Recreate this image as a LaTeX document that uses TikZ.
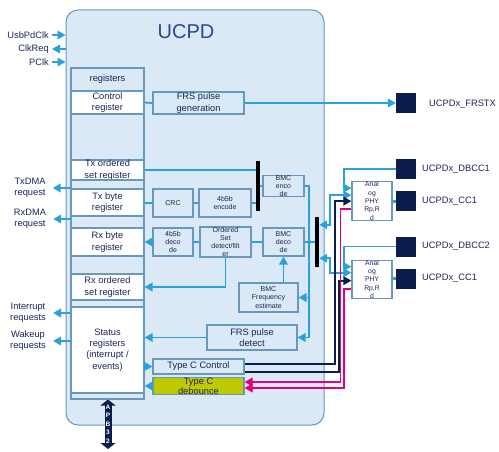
\documentclass[tikz,border=0pt]{standalone}
\usepackage{fontspec}
\setmainfont{Liberation Sans}
\usetikzlibrary{arrows.meta,calc}
\definecolor{mfill}{RGB}{219,232,245}
\definecolor{bord}{RGB}{104,152,190}
\definecolor{lblue}{RGB}{41,161,219}
\definecolor{navy}{RGB}{10,30,78}
\definecolor{txt}{RGB}{28,36,88}
\definecolor{pinkc}{RGB}{228,0,124}
\definecolor{olive}{RGB}{190,202,0}
\definecolor{titlec}{RGB}{40,72,152}
\begin{document}
\begin{tikzpicture}[x=1pt,y=-1pt,
  blk/.style={draw=bord,line width=1.1pt,fill=mfill,inner sep=0pt,align=center,text=txt,font=\fontsize{9.3}{11.2}\selectfont},
  reg/.style={blk,fill=white,minimum width=73pt},
  col/.style={blk,minimum width=73pt},
  sblk/.style={blk,font=\fontsize{7}{8.3}\selectfont},
  sq/.style={fill=navy,minimum size=20pt,inner sep=0pt},
  vbar/.style={fill=black,inner sep=0pt,minimum width=4pt,minimum height=50pt},
  tip/.style={-{Triangle[length=8pt,width=8.5pt]}},
  btip/.style={{Triangle[length=8pt,width=8.5pt]}-{Triangle[length=8pt,width=8.5pt]}},
  lb/.style={draw=lblue,line width=1.8pt},
  lba/.style={lb,tip},
  lbb/.style={lb,btip},
  nva/.style={draw=navy,line width=1.9pt,tip},
  pka/.style={draw=pinkc,line width=1.7pt,tip},
  lab/.style={text=txt,font=\fontsize{9.3}{11}\selectfont,align=center,inner sep=0pt},
]
\useasboundingbox (0,0) rectangle (499,452);
% main block
\node[draw=bord,fill=mfill,line width=1pt,rounded corners=12pt,minimum width=258pt,minimum height=415pt,inner sep=0pt] (ucpd) at (195,217.5) {};
\node[text=titlec,font=\fontsize{20}{20}\selectfont,inner sep=0pt] (title) at (186,32) {UCPD};

% register column
\node[col,minimum height=23pt] (lreg) at (107.5,79.5) {registers};
\node[reg,minimum height=23pt] (ctrl) at (107.5,102.5) {Control\\register};
\node[col,minimum height=46pt] (gap1) at (107.5,137) {};
\node[reg,minimum height=20pt] (txos) at (107.5,170) {Tx ordered\\set register};
\node[col,minimum height=9pt] (strip1) at (107.5,184.5) {};
\node[reg,minimum height=27pt] (txb) at (107.5,202.5) {Tx byte\\register};
\node[col,minimum height=12pt] (strip2) at (107.5,222) {};
\node[reg,minimum height=28pt] (rxb) at (107.5,242) {Rx byte\\register};
\node[col,minimum height=18pt] (strip3) at (107.5,265) {};
\node[reg,minimum height=26pt] (rxos) at (107.5,287) {Rx ordered\\set register};
\node[col,minimum height=7pt] (strip4) at (107.5,303.5) {};
\node[reg,minimum height=86pt] (status) at (107.5,350) {Status\\registers\\(interrupt /\\events)};
\node[col,minimum height=6pt] (strip5) at (107.5,396) {};

% inner blocks
\node[blk,minimum width=91pt,minimum height=22pt] (frsgen) at (198.5,103) {FRS pulse\\generation};
\node[vbar] (bar1) at (258,186) {};
\node[sblk,minimum width=40pt,minimum height=28pt] (crc) at (173,203) {CRC};
\node[sblk,minimum width=52pt,minimum height=28pt] (enc45) at (225,203) {4b5b\\encode};
\node[sblk,minimum width=41pt,minimum height=20pt] (bmcenc) at (283.5,186) {BMC\\enco\\de};
\node[vbar] (bar2) at (317,242) {};
\node[sblk,minimum width=40pt,minimum height=28pt] (dec45) at (173,242) {4b5b\\deco\\de};
\node[sblk,minimum width=51pt,minimum height=28pt] (os) at (225.5,242) {Ordered\\Set\\detect/filt\\er};
\node[sblk,minimum width=41pt,minimum height=28pt] (bmcdec) at (283.5,242) {BMC\\deco\\de};
\node[sblk,minimum width=59pt,minimum height=29pt] (bmcfreq) at (268.5,297.5) {BMC\\Frequency\\estimate};
\node[blk,minimum width=90pt,minimum height=25pt] (frsdet) at (252,337.5) {FRS pulse\\detect};
\node[blk,minimum width=91pt,minimum height=15pt] (typec) at (198.5,366.5) {Type C Control};
\node[blk,fill=olive,minimum width=91pt,minimum height=16pt,font=\fontsize{9.3}{10}\selectfont] (deb) at (198.5,386) {Type C\\debounce};

% analog PHYs
\node[sblk,fill=white,minimum width=40pt,minimum height=36pt,font=\fontsize{6.8}{8.4}\selectfont] (phy1) at (372,201) {Anal\\og\\PHY\\Rp,R\\d};
\node[sblk,fill=white,minimum width=40pt,minimum height=35pt,font=\fontsize{6.8}{8.4}\selectfont] (phy2) at (372,279.5) {Anal\\og\\PHY\\Rp,R\\d};

% pins
\node[sq] (frstx) at (406,103) {};
\node[sq] (dbcc1) at (406,169) {};
\node[sq] (cc1a) at (406,201.5) {};
\node[sq] (dbcc2) at (406,246.5) {};
\node[sq] (cc1b) at (406,278.5) {};
\node[lab,anchor=west] (frstxl) at (429,104) {UCPDx\_FRSTX};
\node[lab,anchor=west] (dbcc1l) at (422,169) {UCPDx\_DBCC1};
\node[lab,anchor=west] (cc1al) at (422,201) {UCPDx\_CC1};
\node[lab,anchor=west] (dbcc2l) at (422,246) {UCPDx\_DBCC2};
\node[lab,anchor=west] (cc1bl) at (422,278) {UCPDx\_CC1};

% left signals
\node[lab,anchor=east] (usb) at (49,35) {UsbPdClk};
\node[lab,anchor=east] (clk) at (49,49) {ClkReq};
\node[lab,anchor=east] (pclk) at (49,62) {PClk};
\draw[lba] ([xshift=3pt]usb.east) -- (usb.east -| ucpd.west);
\draw[lba] (clk.east -| ucpd.west) -- ([xshift=3pt]clk.east);
\draw[lba] ([xshift=3pt]pclk.east) -- (pclk.east -| ucpd.west);
\node[lab] (txdma) at (30,188) {TxDMA\\request};
\node[lab] (rxdma) at (30,219) {RxDMA\\request};
\node[lab] (intr) at (28,313) {Interrupt\\requests};
\node[lab] (wake) at (28,341) {Wakeup\\requests};
\draw[lba] (txdma.east -| txb.west) -- ([xshift=7pt]txdma.east);
\draw[lba] (rxdma.east -| rxb.west) -- ([xshift=7pt]rxdma.east);
\draw[lba] (intr.east -| status.west) -- ([xshift=7pt]intr.east);
\draw[lba] (wake.east -| status.west) -- ([xshift=7pt]wake.east);

% internal connections
\draw[lb] (ctrl.east) -- (frsgen.west);
\draw[lba] (frsgen.east) -- (frstx.west);
\draw[lb] (txos.east) -- (txos.east -| bar1.west);
\draw[lb] (crc.west -| txb.east) -- (crc.west);
\draw[lb] (crc.east) -- (enc45.west);
\draw[lb] (enc45.east) -- (enc45.east -| bar1.west);
\draw[lb] (bar1.east |- bmcenc.west) -- (bmcenc.west);
\coordinate (j) at ($(bmcdec.east)+(4.5,0)$);
\draw[lba] (bmcenc.east) -| (j) |- (frsdet.east);
\draw[lba] (j |- bmcfreq.east) -- (bmcfreq.east);
\draw[lb] (bmcdec.east) -- (bar2.west);
\fill[lblue] (j) circle (2pt);
\draw[lb] (bmcdec.west) -- (os.east);
\draw[lb] (os.west) -- (dec45.east);
\draw[lba] (dec45.west) -- (dec45.west -| rxb.east);
\draw[lba] (os.south) |- (rxos.east);
\draw[lba] (bmcfreq.north -| bmcdec.south) -- (bmcdec.south);
\draw[lba] (frsdet.west) -- (frsdet.west -| status.east);
\draw[lba] (typec.west -| status.east) -- (typec.west);
\draw[lba] (deb.west) -- (deb.west -| status.east);

% PHY connections
\draw[lba] (dbcc1.west) -- ++(-52,0) |- ([yshift=-7pt]phy1.north west);
\draw[lba] (dbcc2.west) -- ++(-52,0) |- ([yshift=-7pt]phy2.north west);
\draw[lbb] ([yshift=-8pt]bar2.north east) -- ++(11,0) |- ([yshift=-14pt]phy1.north west);
\draw[lbb] ([yshift=9pt]bar2.south east) -- ++(11,0) |- ([yshift=-13pt]phy2.north west);
\draw[lb,line width=2.8pt] (phy1.east |- cc1a.west) -- (cc1a.west);
\draw[lb,line width=2.8pt] (phy2.east |- cc1b.west) -- (cc1b.west);
\draw[nva] ([yshift=2.5pt]typec.east) -- ++(90,0) |- ([yshift=-20pt]phy1.north west);
\draw[nva] ([yshift=-5.5pt]typec.east) -- ++(94.5,0) |- ([yshift=-21pt]phy2.north west);
\draw[pka] ([yshift=-28pt]phy1.north west) -- ++(-11,0) |- ([yshift=4pt]deb.east);
\draw[pka] ([yshift=-29pt]phy2.north west) -- ++(-7.5,0) |- ([yshift=-2pt]deb.east);

% APB bus
\coordinate (apbbot) at (108,449);
\draw[navy,line width=7pt,{Triangle[length=6pt,width=15pt]}-{Triangle[length=6pt,width=15pt]}] (strip5.south -| apbbot) -- (apbbot);
\node[text=white,font=\bfseries\fontsize{6.5}{8.5}\selectfont,align=center,inner sep=0pt] (apb) at (108,424) {A\\P\\B\\3\\2};
\end{tikzpicture}
\end{document}
